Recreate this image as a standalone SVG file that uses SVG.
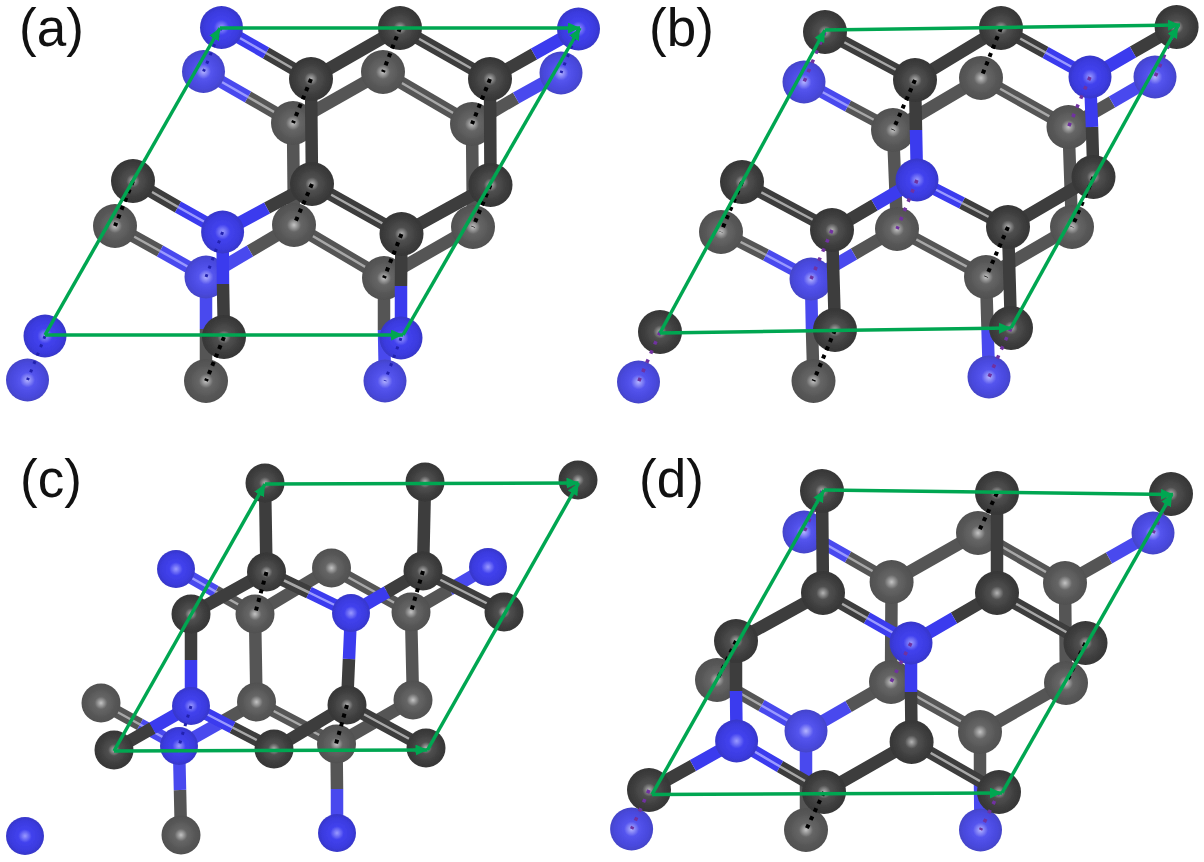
<svg xmlns="http://www.w3.org/2000/svg" width="1204" height="862" viewBox="0 0 1204 862">
<style>
text{font-family:"Liberation Sans",Arial,sans-serif;font-size:53px;fill:#111}
path{fill:none}
.bg{stroke:#555;stroke-width:12.5}
.bn{stroke:#4a4aee;stroke-width:12.5}
.fg{stroke:#3c3c3c;stroke-width:12.5}
.fn{stroke:#3a3aee;stroke-width:12.5}
.hg{stroke:#a8a8a8;stroke-width:2.5}
.hn{stroke:#9a9aff;stroke-width:2.5}
.dk{fill:url(#gd)}.gr{fill:url(#gg)}.nf{fill:url(#gn)}.nb{fill:url(#gl)}
.cell{stroke:#00a651;stroke-width:3.5;marker-end:url(#tip)}
.db{stroke:#000;stroke-width:4;stroke-dasharray:4 5}
.dp{stroke:#7030a0;stroke-width:3.5;stroke-dasharray:3.5 6.5}
.dn{stroke:#2222b0;stroke-width:3;stroke-dasharray:3 6}
</style>
<defs>
<radialGradient id="gd"><stop offset="0" stop-color="#b4b4b4"/><stop offset=".3" stop-color="#505050"/><stop offset=".75" stop-color="#3c3c3c"/><stop offset="1" stop-color="#363636"/></radialGradient>
<radialGradient id="gg"><stop offset="0" stop-color="#c4c4c4"/><stop offset=".32" stop-color="#666"/><stop offset=".75" stop-color="#565656"/><stop offset="1" stop-color="#505050"/></radialGradient>
<radialGradient id="gn"><stop offset="0" stop-color="#9a9aff"/><stop offset=".35" stop-color="#4242ee"/><stop offset=".8" stop-color="#3a3ade"/><stop offset="1" stop-color="#3838c8"/></radialGradient>
<radialGradient id="gl"><stop offset="0" stop-color="#b4b4ff"/><stop offset=".35" stop-color="#5454ee"/><stop offset=".8" stop-color="#4848dc"/><stop offset="1" stop-color="#4444c8"/></radialGradient>
<marker id="tip" markerUnits="userSpaceOnUse" markerWidth="13" markerHeight="12" refX="12" refY="5.5" orient="auto"><path d="M0,0L12,5.5L0,11Z" style="fill:#00a651"/></marker>
<filter id="soft" x="-5%" y="-5%" width="110%" height="110%"><feGaussianBlur stdDeviation="0.55"/></filter>
</defs>

<g id="labels">
<text x="19" y="46">(a)</text>
<text x="649" y="46">(b)</text>
<text x="20" y="497">(c)</text>
<text x="639" y="497">(d)</text>
</g>

<g id="panel-a" filter="url(#soft)">
<g id="a-bonds-back">
<path class="bg" d="M248,97L293,123M383,72L472,124M294,225L384,278M115,226L160,251M383,72L293,123M516,98L472,124M293,123L294,225M472,124L473,227M294,225L250,251M473,227L384,278M206,329L206,381M384,278L384,330"/>
<path class="bn" d="M203.5,71.5L248,97M160,251L206,277M561,73L516,98M250,251L206,277M206,277L206,329M384,330L385,381"/>
<path class="hg" d="M248,97L293,123M383,72L472,124M294,225L384,278M115,226L160,251"/>
<path class="hn" d="M203.5,71.5L248,97M160,251L206,277"/>
</g>
<g id="a-atoms-back">
<circle class="nb" cx="203.5" cy="71.5" r="21.5"/><circle class="gr" cx="383" cy="72" r="22"/><circle class="nb" cx="561" cy="73" r="21.5"/>
<circle class="gr" cx="293" cy="123" r="22"/><circle class="gr" cx="472" cy="124" r="22"/>
<circle class="gr" cx="294" cy="225" r="22"/><circle class="gr" cx="473" cy="227" r="22"/><circle class="gr" cx="115" cy="226" r="22"/>
<circle class="nb" cx="206" cy="277" r="21.5"/><circle class="gr" cx="384" cy="278" r="22"/>
<circle class="nb" cx="27.5" cy="380" r="21.5"/><circle class="gr" cx="206" cy="381" r="22"/><circle class="nb" cx="385" cy="381" r="21.5"/>
</g>
<g id="a-bonds-front">
<path class="fg" d="M266,53L311,79M400,28L490,79M312,184L401.5,234M133,181L178,207M400,28L311,79M534,54L490,79M311,79L312,184M490,79L490.5,185M312,184L267,208M490.5,185L401.5,234M223,284L224,337M401.5,234L401,286"/>
<path class="fn" d="M221.5,27.5L266,53M178,207L222.6,232M578.5,29L534,54M267,208L222.6,232M222.6,232L223,284M401,286L401,338"/>
<path class="hg" d="M266,53L311,79M400,28L490,79M312,184L401.5,234M133,181L178,207"/>
<path class="hn" d="M221.5,27.5L266,53M178,207L222.6,232"/>
</g>
<g id="a-atoms-front">
<circle class="nf" cx="221.5" cy="27.5" r="21.5"/><circle class="dk" cx="400" cy="28" r="22"/><circle class="nf" cx="578.5" cy="29" r="21.5"/>
<circle class="dk" cx="311" cy="79" r="22"/><circle class="dk" cx="490" cy="79" r="22"/>
<circle class="dk" cx="312" cy="184" r="22"/><circle class="dk" cx="490.5" cy="185" r="22"/><circle class="dk" cx="133" cy="181" r="22"/>
<circle class="nf" cx="222.6" cy="232" r="21.5"/><circle class="dk" cx="401.5" cy="234" r="22"/>
<circle class="nf" cx="45" cy="336" r="21.5"/><circle class="dk" cx="224" cy="337" r="22"/><circle class="nf" cx="401" cy="338" r="21.5"/>
</g>
<path class="db" d="M400,28L383,72M311,79L293,123M490,79L472,124M312,184L294,225M490.5,185L473,227M133,181L115,226M401.5,234L384,278M224,337L206,381"/>
<path class="dn" d="M221.5,27.5L203.5,71.5M578.5,29L561,73M222.6,232L206,277M45,336L27.5,380M401,338L385,381"/>
<g id="a-cell">
<path class="cell" d="M45,335L403,335"/><path class="cell" d="M45,335L220,28"/><path class="cell" d="M220,28L580,28"/><path class="cell" d="M403,335L580,28"/>
</g>
</g>

<g id="panel-b" filter="url(#soft)">
<g id="b-bonds-back">
<path class="bg" d="M848,106L893,130M981,78L1068.5,127M721,232L766,255M897,229L986,277M981,78L893,130M1112,102L1068.5,127M893,130L897,229M1068.5,127L1072,227M897,229L854,254M1072,227L986,277M812,330L813.5,381M986,277L987.5,327"/>
<path class="bn" d="M804,82L848,106M766,255L811,279M1155,77L1112,102M854,254L811,279M811,279L812,330M987.5,327L989,377"/>
<path class="hg" d="M848,106L893,130M981,78L1068.5,127M721,232L766,255M897,229L986,277"/>
<path class="hn" d="M804,82L848,106M766,255L811,279"/>
</g>
<g id="b-atoms-back">
<circle class="nb" cx="804" cy="82" r="21.5"/><circle class="gr" cx="981" cy="78" r="22"/><circle class="nb" cx="1155" cy="77" r="21.5"/>
<circle class="gr" cx="893" cy="130" r="22"/><circle class="gr" cx="1068.5" cy="127" r="22"/>
<circle class="gr" cx="721" cy="232" r="22"/><circle class="gr" cx="897" cy="229" r="22"/><circle class="gr" cx="1072" cy="227" r="22"/>
<circle class="nb" cx="811" cy="279" r="21.5"/><circle class="gr" cx="986" cy="277" r="22"/>
<circle class="nb" cx="638.5" cy="382" r="21.5"/><circle class="gr" cx="813.5" cy="381" r="22"/><circle class="nb" cx="989" cy="377" r="21.5"/>
</g>
<g id="b-bonds-front">
<path class="fg" d="M825,32L915,80M1001,28L1045.5,52.5M742,182L832,230M962,203L1008,227M1001,28L915,80M1176.6,27L1133,52M915,80L916,130M1092,127L1093.5,177M832,230L874.5,205M1008,227L1093.5,177M832,230L835,330M1008,227L1011,328"/>
<path class="fn" d="M1045.5,52.5L1090,77M917,180L962,203M1133,52L1090,77M916,130L917,180M1090,77L1092,127M874.5,205L917,180"/>
<path class="hg" d="M825,32L915,80M1001,28L1045.5,52.5M742,182L832,230M962,203L1008,227"/>
<path class="hn" d="M1045.5,52.5L1090,77M917,180L962,203"/>
</g>
<g id="b-atoms-front">
<circle class="dk" cx="825" cy="32" r="22"/><circle class="dk" cx="1001" cy="28" r="22"/><circle class="dk" cx="1176.6" cy="27" r="22"/>
<circle class="dk" cx="915" cy="80" r="22"/><circle class="nf" cx="1090" cy="77" r="21.5"/>
<circle class="nf" cx="917" cy="180" r="21.5"/><circle class="dk" cx="1093.5" cy="177" r="22"/><circle class="dk" cx="742" cy="182" r="22"/>
<circle class="dk" cx="832" cy="230" r="22"/><circle class="dk" cx="1008" cy="227" r="22"/>
<circle class="dk" cx="660" cy="332" r="22"/><circle class="dk" cx="835" cy="330" r="22"/><circle class="dk" cx="1011" cy="328" r="22"/>
</g>
<path class="db" d="M1001,28L981,78M915,80L893,130M742,182L721,232M1008,227L986,277M1093.5,177L1072,227M835,330L813.5,381"/>
<path class="dp" d="M825,32L804,82M1176.6,27L1155,77M1090,77L1068.5,127M917,180L897,229M832,230L811,279M660,332L638.5,382M1011,328L989,377"/>
<g id="b-cell">
<path class="cell" d="M660,333L1011,328"/><path class="cell" d="M660,333L825,30"/><path class="cell" d="M825,30L1180,25"/><path class="cell" d="M1011,328L1178,26"/>
</g>
</g>

<g id="panel-c" filter="url(#soft)">
<g id="c-bonds-back">
<path class="bg" d="M215.5,591.5L255,614M331.5,568L411,612M101,703L140,724.5M256.5,702L336.5,744M255,614L331.5,568M411,612L449.5,589.5M255,614L256.5,702M411,612L413,700M256.5,702L218,724M413,700L336.5,744M180,790L181,835M336.5,744L337,789"/>
<path class="bn" d="M176,569L215.5,591.5M140,724.5L179,746M488,567L449.5,589.5M218,724L179,746M179,746L180,790M337,789L337,833"/>
<path class="hg" d="M215.5,591.5L255,614M331.5,568L411,612M101,703L140,724.5M256.5,702L336.5,744"/>
<path class="hn" d="M176,569L215.5,591.5M140,724.5L179,746"/>
</g>
<g id="c-atoms-back">
<circle class="nf" cx="176" cy="569" r="19"/><circle class="gr" cx="331.5" cy="568" r="19.5"/><circle class="nf" cx="488" cy="567" r="19"/>
<circle class="gr" cx="255" cy="614" r="19.5"/><circle class="gr" cx="411" cy="612" r="19.5"/>
<circle class="gr" cx="101" cy="703" r="19.5"/><circle class="gr" cx="256.5" cy="702" r="19.5"/><circle class="gr" cx="413" cy="700" r="19.5"/>
<circle class="nf" cx="179" cy="746" r="19"/><circle class="gr" cx="336.5" cy="744" r="19.5"/>
<circle class="nf" cx="25" cy="836" r="19"/><circle class="gr" cx="181" cy="835" r="19.5"/><circle class="nf" cx="337" cy="833" r="19"/>
</g>
<g id="c-bonds-front">
<path class="fg" d="M266.5,572L309,592.5M423,571L504,612M232.5,727.5L274,749M347,705L426,748M265,483L266.5,572M425,482L423,571M266.5,572L191,614M387,592L423,571M349,659L347,705M191,614L191,660M152.5,728L114,750M274,749L347,705"/>
<path class="fn" d="M309,592.5L351,613M191,706L232.5,727.5M351,613L387,592M351,613L349,659M191,660L191,706M191,706L152.5,728"/>
<path class="hg" d="M266.5,572L309,592.5M423,571L504,612M232.5,727.5L274,749M347,705L426,748"/>
<path class="hn" d="M309,592.5L351,613M191,706L232.5,727.5"/>
</g>
<g id="c-atoms-front">
<circle class="dk" cx="265" cy="483" r="19.5"/><circle class="dk" cx="425" cy="482" r="19.5"/><circle class="dk" cx="578" cy="480" r="19.5"/>
<circle class="dk" cx="266.5" cy="572" r="19.5"/><circle class="dk" cx="423" cy="571" r="19.5"/>
<circle class="dk" cx="191" cy="614" r="19.5"/><circle class="nf" cx="351" cy="613" r="19"/><circle class="dk" cx="504" cy="612" r="19.5"/>
<circle class="nf" cx="191" cy="706" r="19"/><circle class="dk" cx="347" cy="705" r="19.5"/>
<circle class="dk" cx="114" cy="750" r="19.5"/><circle class="dk" cx="274" cy="749" r="19.5"/><circle class="dk" cx="426" cy="748" r="19.5"/>
</g>
<path class="db" d="M266.5,572L255,614M423,571L411,612M347,705L336,744"/>
<path class="dn" d="M191,706L179,746"/>
<g id="c-cell">
<path class="cell" d="M114,751L427.5,750"/><path class="cell" d="M114,751L265,484"/><path class="cell" d="M265,484L578.5,483"/><path class="cell" d="M427.5,750L578.5,483"/>
</g>
</g>

<g id="panel-d" filter="url(#soft)">
<g id="d-bonds-back">
<path class="bg" d="M848,557L891.6,582M978,533L1065,583M717,680L761.5,705.5M891,682L980,732M978,533L891.6,582M1109,558L1065,583M891.6,582L891,682M1065,583L1066,683M891,682L848.5,706.5M1066,683L980,732M806,780L806,830M980,732L980,781"/>
<path class="bn" d="M804,532L848,557M761.5,705.5L806,731M1153,533L1109,558M848.5,706.5L806,731M806,731L806,780M980,781L980.5,830"/>
<path class="hg" d="M848,557L891.6,582M978,533L1065,583M717,680L761.5,705.5M891,682L980,732"/>
<path class="hn" d="M804,532L848,557M761.5,705.5L806,731"/>
</g>
<g id="d-atoms-back">
<circle class="nb" cx="804" cy="532" r="21.5"/><circle class="gr" cx="978" cy="533" r="22"/><circle class="nb" cx="1153" cy="533" r="21.5"/>
<circle class="gr" cx="891.6" cy="582" r="22"/><circle class="gr" cx="1065" cy="583" r="22"/>
<circle class="gr" cx="717" cy="680" r="22"/><circle class="gr" cx="891" cy="682" r="22"/><circle class="gr" cx="1066" cy="683" r="22"/>
<circle class="nb" cx="806" cy="731" r="21.5"/><circle class="gr" cx="980" cy="732" r="22"/>
<circle class="nb" cx="631.6" cy="829" r="21.5"/><circle class="gr" cx="806" cy="830" r="22"/><circle class="nb" cx="980.5" cy="830" r="21.5"/>
</g>
<g id="d-bonds-front">
<path class="fg" d="M823,593L867,618M997,593L1085.5,643M780,766.5L824,792M911.6,742L999,792M822,491L823,593M997,493L997,593M823,593L736,641M954,618L997,593M736,641L736,691M911,692L911.6,742M693,765.5L649,790M824,792L911.6,742"/>
<path class="fn" d="M867,618L911,643M736.6,741L780,766.5M911,643L954,618M736,691L736.6,741M911,643L911,692M736.6,741L693,765.5"/>
<path class="hg" d="M823,593L867,618M997,593L1085.5,643M780,766.5L824,792M911.6,742L999,792"/>
<path class="hn" d="M867,618L911,643M736.6,741L780,766.5"/>
</g>
<g id="d-atoms-front">
<circle class="dk" cx="822" cy="491" r="22"/><circle class="dk" cx="997" cy="493" r="22"/><circle class="dk" cx="1171" cy="494" r="22"/>
<circle class="dk" cx="823" cy="593" r="22"/><circle class="dk" cx="997" cy="593" r="22"/>
<circle class="dk" cx="736" cy="641" r="22"/><circle class="nf" cx="911" cy="643" r="21.5"/><circle class="dk" cx="1085.5" cy="643" r="22"/>
<circle class="nf" cx="736.6" cy="741" r="21.5"/><circle class="dk" cx="911.6" cy="742" r="22"/>
<circle class="dk" cx="649" cy="790" r="22"/><circle class="dk" cx="824" cy="792" r="22"/><circle class="dk" cx="999" cy="792" r="22"/>
</g>
<path class="db" d="M997,493L978,533M736,641L717,680M1085.5,643L1066,683M824,792L806,830"/>
<path class="dp" d="M822,491L804,532M1171,494L1153,533M911,643L891,682M649,790L631.6,829M999,792L980.5,830"/>
<g id="d-cell">
<path class="cell" d="M652,794.5L1002,793"/><path class="cell" d="M652,794.5L824,490"/><path class="cell" d="M824,490L1173,494.5"/><path class="cell" d="M1002,793L1172,494"/>
</g>
</g>
</svg>
